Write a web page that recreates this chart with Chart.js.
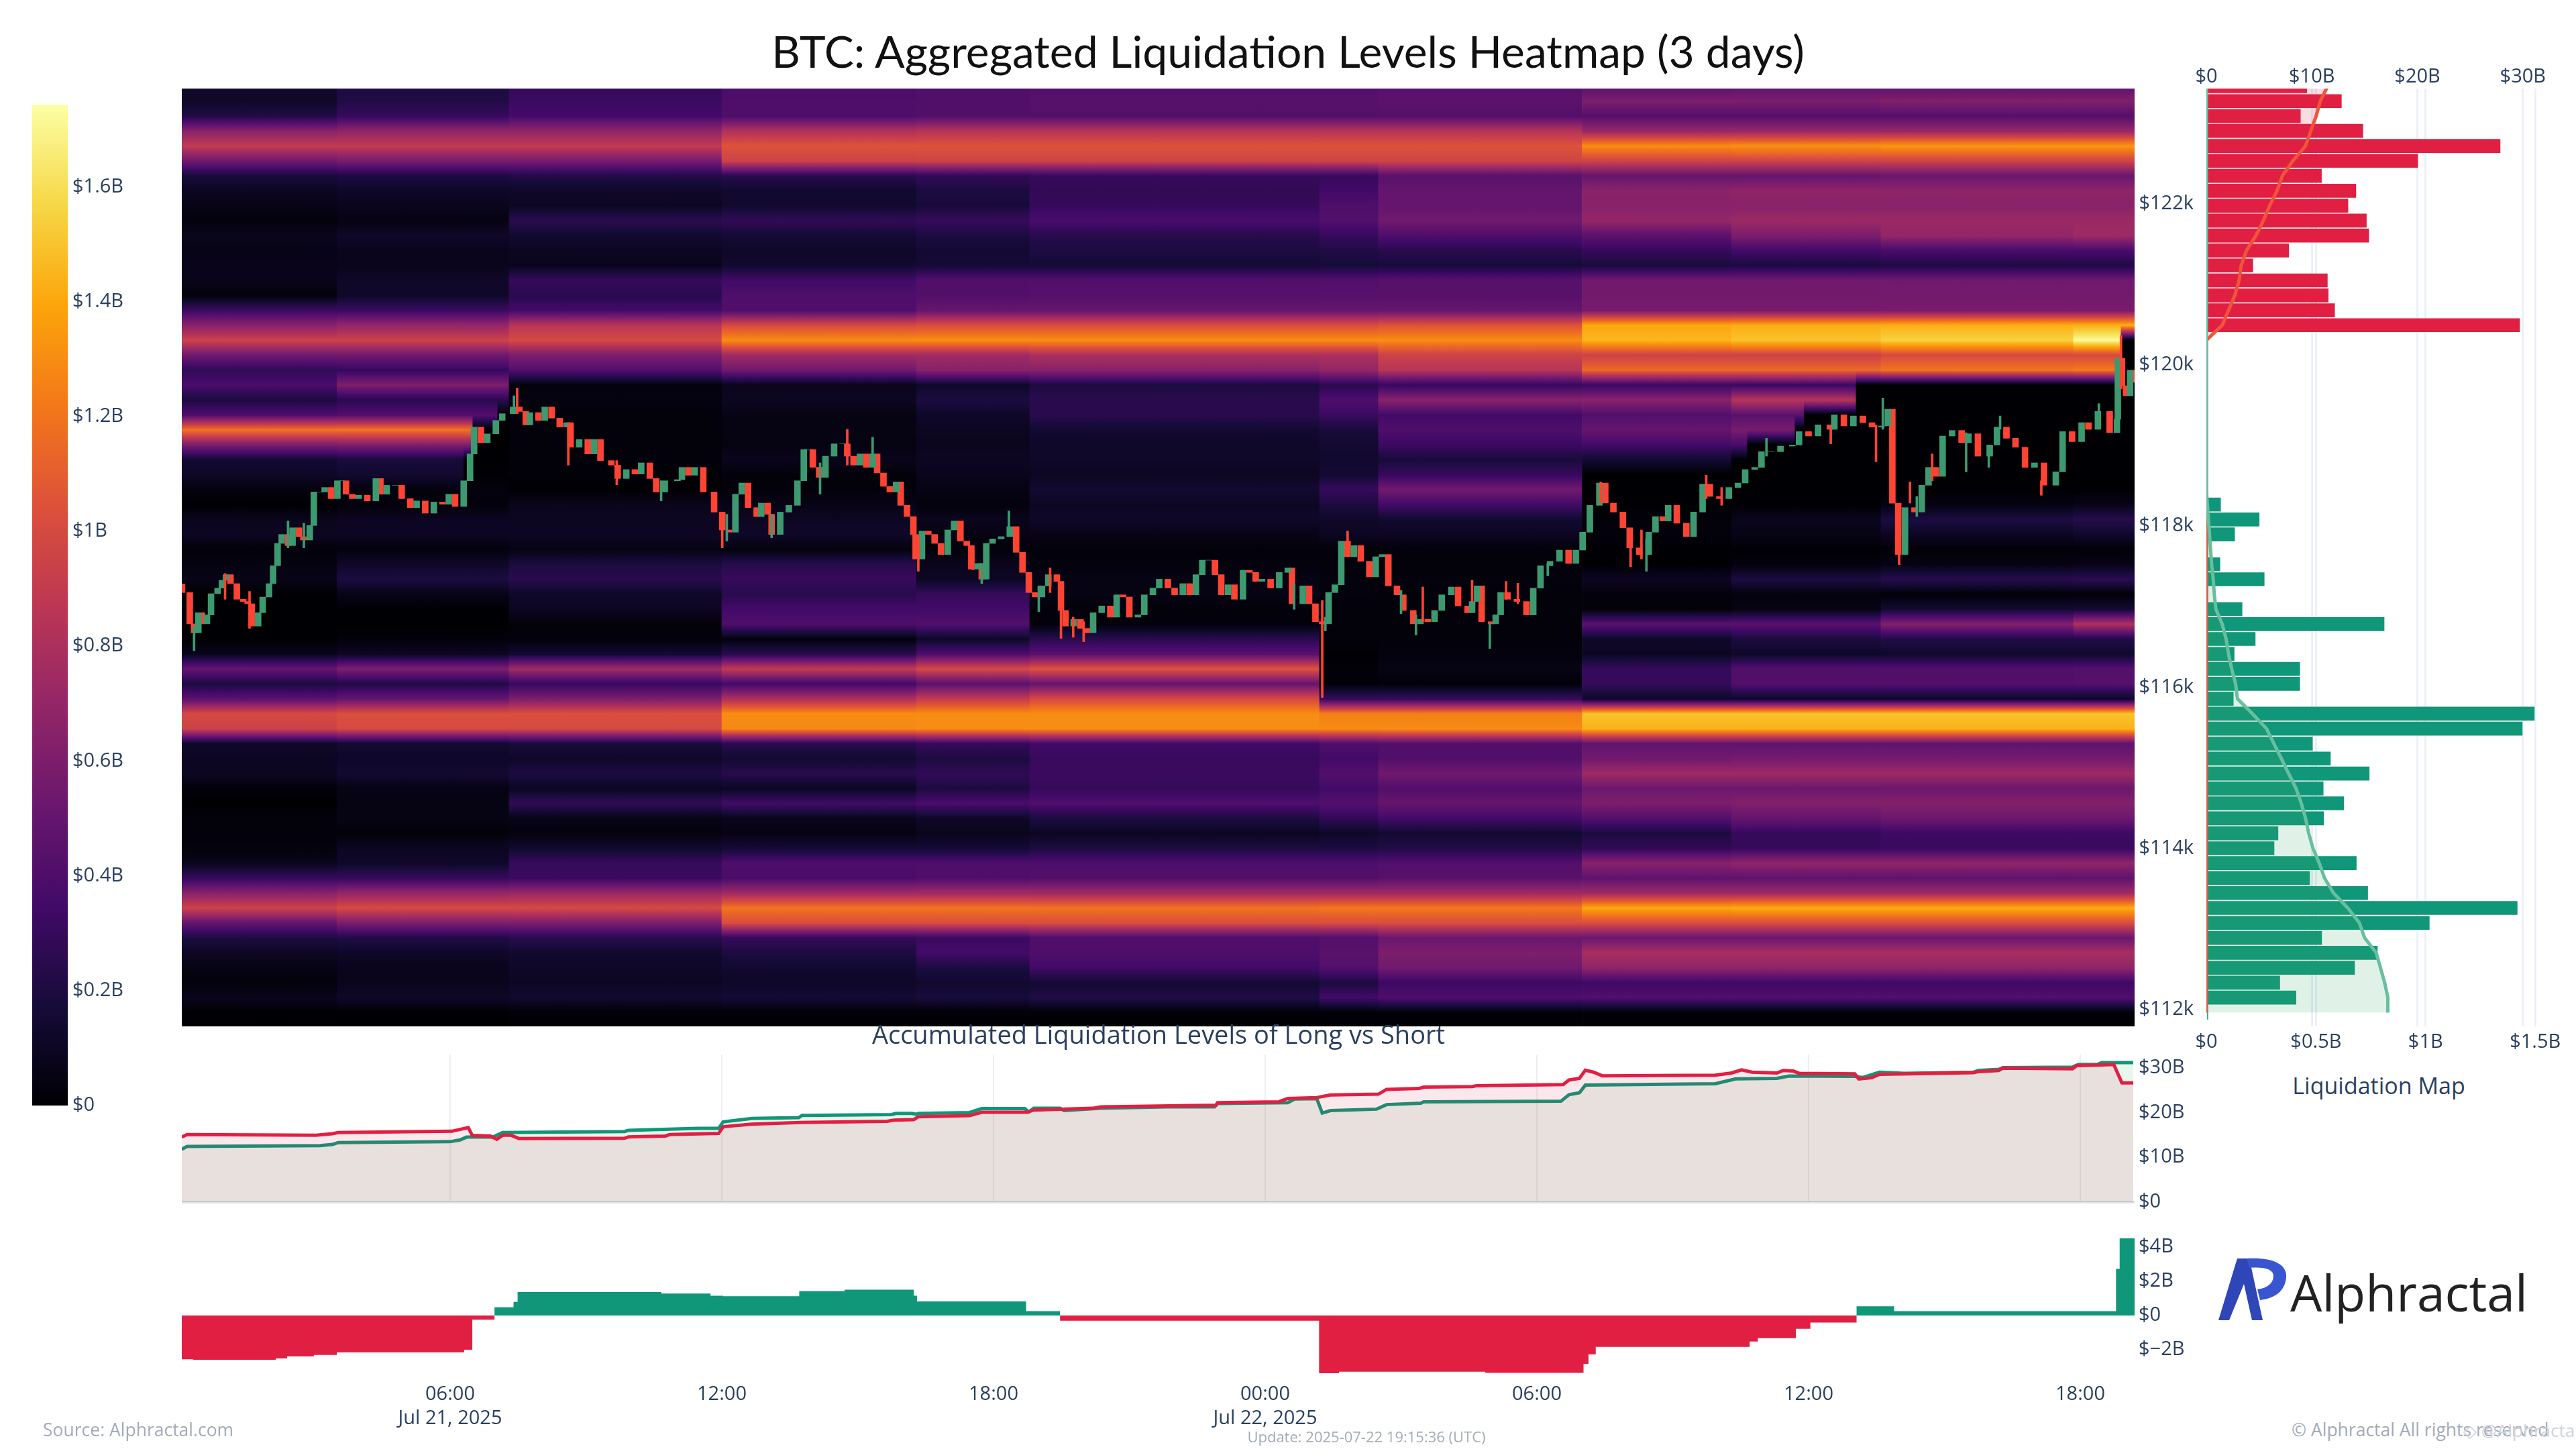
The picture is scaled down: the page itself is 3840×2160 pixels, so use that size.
<!DOCTYPE html>
<html>
<head>
<meta charset="utf-8">
<title>BTC Aggregated Liquidation Levels Heatmap</title>
<script src="https://cdn.jsdelivr.net/npm/chart.js"></script>
<style>
html, body { margin: 0; background: #fff; width: 3840px; height: 2160px; overflow: hidden; }
canvas { position: absolute; }
.txt { position: absolute; white-space: nowrap; font-family: "Open Sans", sans-serif; color: #2a3f5f; line-height: 1; }
</style>
</head>
<body>
<canvas id="heat" style="left:271px;top:132px" width="2911" height="1398"></canvas>
<canvas id="candles" style="left:271px;top:132px" width="2911" height="1398"></canvas>
<canvas id="colorbar" style="left:48px;top:136px" width="180" height="1532"></canvas>
<canvas id="liqmap" style="left:3182px;top:100px" width="658" height="1468"></canvas>
<canvas id="accum" style="left:271px;top:1552px" width="3031" height="264"></canvas>
<canvas id="net" style="left:271px;top:1826px" width="3031" height="314"></canvas>

<div class="txt" style="left:1920px;top:76px;transform:translate(-50%,-50%);font-family:Lato,sans-serif;font-size:66px;color:#111">BTC: Aggregated Liquidation Levels Heatmap (3 days)</div>
<div class="txt" style="left:1727px;top:1541px;transform:translate(-50%,-50%);font-size:38px">Accumulated Liquidation Levels of Long vs Short</div>
<div class="txt" style="left:3546px;top:1618px;transform:translate(-50%,-50%);font-size:34px">Liquidation Map</div>
<div class="txt" style="left:64px;top:2131px;transform:translateY(-50%);font-size:26.5px;color:#a3abb8">Source: Alphractal.com</div>
<div class="txt" style="left:2037px;top:2141px;transform:translate(-50%,-50%);font-size:22px;color:#a3abb8">Update: 2025-07-22 19:15:36 (UTC)</div>
<div class="txt" style="left:3416px;top:2131px;transform:translateY(-50%);font-size:26.5px;color:#a3abb8">© Alphractal All rights reserved</div>
<div class="txt" style="left:3672px;top:2132px;transform:translateY(-50%);font-size:26px;color:#cfd4dc">◇ @Alphractal</div>
<div class="txt" style="left:3414px;top:1926px;transform:translateY(-50%);font-size:75px;color:#222">Alphractal</div>
<svg style="position:absolute;left:3305px;top:1874px" width="106" height="96" viewBox="0 0 106 96">
  <path d="M30 2 L48 2 L68 94 L52 94 L40 40 L18 94 L2 94 Z" fill="#2f46b8"/>
  <path d="M44 2 C90 0 108 14 102 36 C98 54 82 62 64 64 L60 48 C76 46 84 38 84 28 C84 18 70 14 48 16 Z" fill="#3a55d0"/>
</svg>

<script>
// heatmap: price of each row and hour where each time column starts
const priceLevels = [123457,123271,123086,122901,122715,122530,122344,122159,121974,121788,121603,121418,121232,121047,120861,120676,120491,120305,120120,119935,119749,119564,119378,119193,119008,118822,118637,118452,118266,118081,117895,117710,117525,117339,117154,116969,116783,116598,116412,116227,116042,115856,115671,115486,115300,115115,114929,114744,114559,114373,114188,114002,113817,113632,113446,113261,113076,112890,112705,112519,112334,112149,111963,111778];
const columnEdges = [0.07,3.5,7.3,12,16.3,18.8,25.2,26.5,31,34.3,37.6,41.85,42.9,43.2];

// liquidation size in $B, one line per price row, one number per time column
const heatValues = [
[.12,.2,.3,.38,.4,.42,.42,.44,.44,.46,.46,.46,.46],
[.12,.22,.32,.4,.42,.44,.44,.46,.6,.6,.62,.62,.62],
[.22,.3,.36,.4,.42,.42,.42,.42,.43,.43,.43,.43,.43],
[.65,.68,.68,.82,.84,.84,.84,.84,.71,.71,.71,.71,.71],
[.9,.9,.9,1.05,1.05,1.05,1.05,1.05,1.3,1.32,1.34,1.34,1.34],
[.55,.58,.58,.95,.96,.96,.96,.96,.96,.96,.96,.96,.96],
[.18,.2,.22,.25,.28,.3,.3,.45,.5,.5,.52,.52,.52],
[.1,.12,.12,.14,.2,.28,.35,.5,.66,.68,.68,.68,.68],
[.06,.08,.1,.14,.18,.3,.4,.5,.65,.65,.65,.65,.65],
[.03,.05,.25,.28,.3,.38,.42,.55,.7,.73,.73,.73,.73],
[.08,.12,.14,.16,.2,.24,.3,.4,.46,.6,.7,.74,.74],
[.06,.08,.1,.12,.15,.2,.22,.25,.3,.35,.38,.38,.38],
[.07,.08,.08,.14,.16,.16,.17,.18,.19,.2,.21,.21,.21],
[.07,.12,.3,.35,.42,.42,.42,.44,.55,.55,.55,.55,.55],
[.03,.12,.25,.4,.42,.43,.44,.44,.55,.55,.56,.56,.56],
[.32,.32,.35,.4,.5,.5,.5,.5,.58,.58,.58,.58,.58],
[.65,.7,.85,1,1.02,1.02,1.02,1.05,1.4,1.42,1.43,1.43,1.43],
[.95,.95,1,1.3,1.3,1.3,1.3,1.3,1.45,1.5,1.55,1.72,0],
[.55,.55,.6,.75,.75,.8,.8,.95,.95,.95,1,1,0],
[.28,.3,.42,.55,.65,.65,.7,.85,1.15,1.15,1.2,1.22,0],
[.38,.6,.03,.08,.12,.2,.25,.3,.32,.32,0,0,0],
[.2,.25,.04,.1,.2,.25,.4,.65,.65,.85,0,0,0],
[.4,.42,.02,.05,.12,.25,.32,.35,.42,.45,0,0,0],
[1.2,1.2,.02,.05,.1,.15,.18,.4,.5,.58,0,0,0],
[.6,.62,.02,.04,.08,.12,.15,.32,.35,.38,0,0,0],
[.15,.18,.02,.08,.1,.12,.14,.18,.15,0,0,0,0],
[.12,.14,.01,.02,.08,.1,.15,.3,0,0,0,0,0],
[.03,.03,0,.02,.05,.15,.3,.55,0,0,0,0,0],
[0,.02,.08,.06,.03,.1,.2,.35,0,0,.04,.06,.065],
[.08,.1,.1,.1,.08,.12,.12,.14,.02,.08,.2,.24,.24],
[.1,.1,.1,.12,.05,.06,.1,.1,.02,.06,.1,.13,.13],
[.02,.03,.05,.03,.02,.02,.02,.02,0,0,.01,.01,.01],
[.04,.12,.2,.25,.08,.03,.02,.02,0,.03,.05,.06,.06],
[.06,.2,.25,.3,.1,.05,.03,.03,.1,.2,.25,.26,.26],
[0,.06,.12,.25,.3,.05,.03,.02,.02,.03,.01,.01,.01],
[0,0,.1,.35,.35,.02,.02,.02,.02,.05,.15,.16,.16],
[0,0,.02,.4,.42,.02,.02,.02,.45,.45,.62,.81,.81],
[0,.02,.02,.03,.12,.25,.02,.02,.12,.2,.22,.22,.22],
[.08,.1,.15,.25,.4,.45,0,.03,.1,.12,.13,.13,.13],
[.5,.6,.75,.9,1,1.05,.01,.05,.3,.42,.42,.43,.43],
[.2,.22,.3,.35,.45,.5,.01,.02,.3,.42,.42,.43,.43],
[.45,.5,.6,.8,.9,1,.3,.3,.12,.12,.12,.12,.12],
[1,1.03,1.03,1.3,1.3,1.3,1.25,1.25,1.5,1.5,1.5,1.5,1.5],
[.95,1,1,1.28,1.3,1.3,1.3,1.3,1.44,1.44,1.44,1.44,1.44],
[.12,.15,.18,.25,.3,.35,.4,.42,.48,.48,.48,.48,.48],
[.1,.12,.12,.15,.2,.3,.35,.42,.55,.57,.57,.57,.57],
[.1,.15,.2,.25,.28,.32,.42,.55,.74,.74,.74,.74,.74],
[.02,.05,.1,.1,.2,.3,.35,.42,.53,.53,.53,.53,.53],
[0,.05,.28,.35,.38,.4,.42,.5,.6,.62,.63,.63,.63],
[.02,.05,.06,.08,.12,.2,.28,.35,.42,.5,.53,.53,.53],
[.02,.02,.03,.05,.08,.1,.12,.15,.2,.3,.33,.33,.33],
[.03,.1,.14,.16,.16,.2,.2,.22,.28,.3,.31,.31,.31],
[.08,.12,.3,.4,.4,.4,.4,.42,.65,.68,.68,.68,.68],
[.3,.3,.32,.38,.4,.42,.42,.45,.47,.47,.47,.47,.47],
[.65,.7,.72,.75,.75,.74,.74,.74,.74,.74,.74,.74,.74],
[.95,1,1,1.2,1.2,1.2,1.22,1.22,1.4,1.42,1.42,1.42,1.42],
[.5,.6,.6,1.02,1.02,1.02,1.02,1.02,1.02,1.02,1.02,1.02,1.02],
[.2,.22,.25,.3,.32,.4,.42,.52,.52,.52,.52,.52,.52],
[.1,.12,.14,.2,.35,.4,.45,.6,.78,.78,.78,.78,.78],
[.05,.08,.12,.14,.2,.35,.42,.55,.68,.68,.68,.68,.68],
[.02,.08,.1,.12,.14,.15,.2,.32,.33,.33,.33,.33,.33],
[.08,.12,.14,.16,.18,.22,.35,.4,.41,.41,.41,.41,.41],
[0,0,.01,.01,.01,.01,.01,.01,.01,.01,.01,.01,.01],
[0,0,0,0,0,0,0,0,0,0,0,0,0]
];

// stretches of a row wiped out when price went through it
const clearRows = [22,23,24,25,26,20,21,22,23,24,25];
const clearFrom = [7.05,6.5,6.5,6.3,6.3,37.05,37.05,35.9,35.7,34.65,34.65];
const clearTo = [7.3,7.3,7.3,7.3,7.3,37.6,37.6,37.6,37.6,37.6,37.6];

// candles, hour since Jul 21 00:00 and close price
const candleHours = [.08,.25,.345,.44,.515,.63,.72,.865,.96,1.05,1.15,1.29,1.43,1.53,1.62,1.76,1.86,2,2.09,2.19,2.28,2.42,2.52,2.66,2.76,2.9,2.99,3.13,3.23,3.37,3.51,3.61,3.7,3.84,3.98,4.17,4.36,4.46,4.6,4.79,4.93,5.12,5.26,5.45,5.64,5.83,5.97,6.11,6.3,6.44,6.53,6.68,6.82,7.01,7.15,7.39,7.53,7.67,7.76,7.95,8.09,8.24,8.42,8.57,8.66,8.85,9.04,9.18,9.32,9.56,9.7,9.89,10.08,10.22,10.41,10.55,10.74,11.02,11.12,11.26,11.4,11.59,11.83,12.01,12.16,12.3,12.44,12.58,12.77,12.87,13.01,13.1,13.29,13.48,13.67,13.81,13.87,14.01,14.15,14.29,14.48,14.67,14.77,14.91,15.05,15.19,15.33,15.43,15.57,15.71,15.85,15.95,16.09,16.23,16.28,16.42,16.56,16.7,16.84,16.99,17.13,17.27,17.41,17.51,17.65,17.74,17.84,17.98,18.17,18.36,18.5,18.64,18.78,18.92,19.07,19.21,19.4,19.49,19.59,19.77,19.92,20.06,20.2,20.39,20.58,20.72,20.86,21,21.19,21.33,21.52,21.66,21.85,22,22.18,22.33,22.47,22.61,22.75,22.89,23.03,23.18,23.32,23.51,23.65,23.79,23.93,24.12,24.31,24.5,24.59,24.83,24.97,25.11,25.26,25.4,25.54,25.68,25.82,25.96,26.11,26.3,26.44,26.58,26.72,26.91,27.05,27.27,27.43,27.59,27.74,27.9,28.11,28.26,28.47,28.57,28.68,28.78,28.99,29.09,29.2,29.35,29.56,29.77,29.92,30.08,30.29,30.5,30.7,30.86,31.01,31.17,31.38,31.51,31.69,31.9,32.05,32.26,32.47,32.62,32.78,32.9,33.09,33.3,33.46,33.66,33.82,34.03,34.24,34.44,34.6,34.81,34.96,35.17,35.38,35.64,35.79,36,36.21,36.47,36.57,36.78,36.99,37.2,37.4,37.61,37.75,37.85,37.98,38.13,38.34,38.5,38.65,38.81,38.96,39.17,39.38,39.53,39.74,40,40.16,40.37,40.57,40.78,40.99,41.2,41.46,41.61,41.82,42.03,42.18,42.39,42.65,42.81,42.83,42.92,43.01,43.1,43.17];
const candleCloses = [117174,116786,116675,116924,116786,116897,117160,117229,117326,117396,117285,117091,117063,117035,116758,116924,117118,117285,117507,117784,117895,117757,117978,117867,117826,118006,118422,118422,118478,118339,118561,118561,118394,118339,118381,118311,118589,118394,118505,118505,118339,118228,118311,118159,118297,118270,118394,118242,118561,118894,119227,119032,119143,119310,119393,119476,119421,119254,119407,119310,119476,119338,119227,119282,118977,119074,118894,119074,118811,118755,118589,118700,118644,118783,118589,118422,118561,118575,118727,118630,118727,118422,118172,117951,117923,118394,118533,118228,118117,118284,118145,117895,118172,118256,118561,118949,118949,118728,118603,118866,119019,119019,118866,118755,118894,118728,118894,118658,118492,118422,118547,118256,118117,117895,117590,117937,117895,117784,117646,117951,118062,117812,117757,117465,117535,117340,117784,117840,117868,117992,117673,117424,117174,117119,117257,117396,117313,116952,116758,116841,116730,116675,116924,117008,116869,117146,117119,116869,116897,117146,117230,117340,117230,117146,117285,117146,117396,117576,117576,117396,117146,117271,117091,117451,117424,117313,117340,117230,117424,117479,117035,117257,117035,116813,116786,117174,117271,117812,117618,117757,117562,117368,117618,117646,117257,117146,116952,116786,116841,116813,116952,117146,117243,117008,116924,117063,117257,116813,116786,116897,117174,117091,117063,116897,117229,117507,117562,117701,117535,117701,117923,118256,118533,118284,118173,117978,117729,117646,117923,118117,118062,118256,118034,117868,118173,118519,118367,118339,118478,118533,118700,118727,118922,118922,118991,119005,119171,119116,119255,119199,119379,119241,119365,119282,119227,119241,119449,118283,117646,118228,118173,118506,118727,118616,119116,119185,119033,119144,118866,119005,119227,119088,118977,118727,118783,118506,118672,119171,119046,119282,119199,119421,119157,119324,120082,119740,119615,119932,119782];

// wicks that stick out of the candle bodies, wickUp 1 = green
const wickHours = [.345,1.03,1.57,2.42,2.77,7.48,7.41,8.61,9.68,10.66,12.01,12.11,13.1,14.77,15.33,14.17,16.34,17.55,17.74,18.34,19.25,19,19.49,19.76,19.99,24.64,25.26,25.33,25.82,27,27.33,27.48,28.57,28.96,29.32,29.58,30.24,31.41,32.07,32.42,32.31,33.74,34.08,35.07,36.49,37.64,37.49,38,38.24,38.39,38.73,39.48,39.98,40.23,41.14,42.41,42.9];
const wickLows = [116453,117091,116730,117729,117729,119393,119421,118755,118511,118311,117729,117812,117854,118755,118728,118395,117438,117457,117285,117868,117174,116938,116605,116619,116564,116966,115870,116697,117646,116911,116647,116813,117063,116480,117091,117035,117382,118284,117493,117438,117590,118339,118256,118866,119019,119199,118797,117521,118284,118117,118561,118672,118727,119199,118381,119310,119700];
const wickHighs = [116758,117410,117188,118062,118034,119712,119615,119282,118811,118561,118089,118145,118145,119199,119102,118783,117868,117701,117535,118187,117479,117257,117035,116869,116813,117285,117077,116869,117937,117202,116896,117243,117327,116786,117313,117290,117535,118547,117867,117840,117951,118630,118478,119088,119199,119587,119254,118145,118547,118367,118894,119157,118977,119365,118561,119518,120365];
const wickUp = [1,0,0,1,1,0,1,0,0,1,0,1,1,0,1,1,0,0,1,1,0,1,0,0,0,1,0,1,0,1,1,0,0,1,0,0,1,0,0,1,0,0,0,1,0,1,0,0,0,1,0,1,1,1,0,1,0];

// liquidation map, $B per price row
const shortBars = [.458,.616,.429,.714,1.34,.964,.525,.682,.646,.73,.741,.376,.212,.552,.556,.585,1.429];
const longBars = [.065,.241,.129,.007,.062,.264,.007,.163,.811,.223,.127,.426,.426,.123,1.496,1.441,.484,.566,.743,.533,.627,.535,.327,.309,.684,.471,.736,1.418,1.017,.526,.78,.676,.335,.409,.007];
const longStartRow = 28;
const shortCum = [11.5,10.8,10.4,9.9,9.4,8.2,7.2,6.7,6,5.4,4.7,3.8,3.3,3.1,2.7,2.1,1.5,0];
const longCum = [.1,.2,.3,.4,.5,.65,.75,.9,1.5,1.87,2.1,2.4,2.77,2.95,4.37,5.7,6.4,7.1,7.8,8.5,9,9.4,9.7,10.1,10.7,11.2,12.05,13.4,14.5,15,16.1,16.5,16.9,17.2,17.2];

// accumulated liquidation levels, $B
const shortHours = [.07,.19,3.04,3.4,3.53,6.04,6.4,6.49,6.89,7.03,7.16,7.34,7.52,9.85,9.94,10.75,10.85,11.93,12.03,12.66,13.75,15.65,15.8,16.24,16.34,17.47,17.74,18.74,18.89,20.19,20.37,22.91,22.95,24.3,24.5,25.14,25.44,26.5,26.68,27.4,27.5,28.58,28.67,30.58,30.71,30.94,31.07,31.25,31.45,33.94,34.3,34.52,34.75,35.3,35.44,35.66,35.79,37.02,37.11,37.39,37.57,39.65,39.75,40.2,40.29,41.83,41.92,42.38,42.74,42.92,43.17];
const shortTotal = [14.5,15.06,14.93,15.25,15.5,15.8,16.63,14.87,14.74,14,14.93,14.93,14.18,14.24,14.55,14.74,15.06,15.31,16.82,17.39,17.77,18.02,18.27,18.4,19.03,19.28,20.03,20.03,20.54,20.92,21.23,21.61,22.18,22.37,23.12,23.31,23.88,24.07,25.14,25.33,25.64,25.77,25.96,26.21,27.22,27.59,29.42,28.98,28.16,28.29,28.79,29.48,28.98,28.79,29.36,29.23,28.73,28.6,27.47,27.72,28.48,28.85,29.1,29.36,29.86,29.74,30.43,30.56,30.68,26.59,26.59];
const longHours = [.07,.19,3.13,3.4,3.53,6,6.22,6.36,6.94,7.16,9.85,9.94,11.48,11.93,12.03,12.66,13.7,13.77,15.75,15.84,16.2,16.29,16.34,17.47,17.74,18.69,18.78,18.89,19.47,19.56,20.37,21.83,22.88,22.95,24.5,24.65,25.14,25.26,25.44,26.46,26.68,27.44,27.5,30.53,30.71,30.94,31.07,33.94,34.39,35.3,35.57,37.02,37.2,37.57,38.11,39.65,39.75,40.2,40.29,41.83,41.96,42.38,42.47,43.17];
const longTotal = [11.78,12.41,12.6,12.85,13.29,13.48,13.86,14.49,14.49,15.5,15.75,16,16.44,16.44,17.89,18.65,18.84,19.34,19.53,19.78,19.78,19.59,19.78,19.97,20.85,20.85,20.1,20.92,20.92,20.41,20.92,21.23,21.23,21.99,22.18,23,23.06,19.85,20.41,20.73,21.74,22.05,22.37,22.49,23.94,24.38,26.08,26.4,27.47,27.59,28.1,28.04,27.78,28.98,28.73,28.98,29.36,29.61,29.99,30.11,30.68,30.68,31.12,31.12];

// long minus short step bars, value holds from its hour to the next one
const deltaHours = [.07,.32,2.15,2.4,2.99,3.5,6.31,6.49,6.98,7.4,7.49,10.66,11.75,12.03,13.71,14.71,16.24,16.31,18.72,19.47,25.19,25.63,28.86,31.03,31.14,31.3,34.7,34.88,35.72,36.04,37.06,37.89,42.79,42.87,43.2];
const deltaValues = [-2.55,-2.58,-2.5,-2.38,-2.3,-2.15,-1.99,-.25,.48,.79,1.37,1.28,1.15,1.12,1.41,1.5,1.15,.82,.25,-.3,-3.37,-3.27,-3.34,-2.81,-2.27,-1.83,-1.51,-1.32,-.77,-.41,.54,.25,2.71,4.49,4.49];

// tick labels
const priceTicks = [112000,114000,116000,118000,120000,122000];
const colorTicks = [0,.2,.4,.6,.8,1,1.2,1.4,1.6];
const mapTicks = [0,.5,1,1.5];
const cumTicks = [0,10,20,30];
const accumTicks = [0,10,20,30];
const deltaTicks = [-2,0,2,4];
const timeTicks = [6,12,18,24,30,36,42];
const timeLabels = [['06:00','Jul 21, 2025'],['12:00'],['18:00'],['00:00','Jul 22, 2025'],['06:00'],['12:00'],['18:00']];

const inferno = ['#000004','#160b39','#420a68','#6a176e','#932667','#bc3754','#dd513a','#f37819','#fca50a','#f6d746','#fcffa4'];
const colorMax = 1.743;
const greenBar = '#109678', redBar = '#e11f43', greenCandle = '#3d9a70', redCandle = '#ff4433';
const tickColor = '#2a3f5f';
const tickFont = { family: '"Open Sans", sans-serif', size: 29 };
const hourMin = 0.074, hourMax = 43.2;
const priceMin = 111792, priceMax = 123427;

Chart.defaults.animation = false;
Chart.defaults.responsive = false;
Chart.defaults.devicePixelRatio = 1;
Chart.defaults.events = [];
Chart.defaults.plugins.legend.display = false;
Chart.defaults.plugins.tooltip.enabled = false;

function hexToRgb(h) {
	return [parseInt(h.substr(1,2),16), parseInt(h.substr(3,2),16), parseInt(h.substr(5,2),16)];
}

function heatColor(v) {
	var t = Math.min(Math.max(v / colorMax, 0), 1) * 10;
	var i = Math.min(Math.floor(t), 9);
	var a = hexToRgb(inferno[i]), b = hexToRgb(inferno[i+1]), f = t - i;
	return 'rgb(' + Math.round(a[0]+(b[0]-a[0])*f) + ',' + Math.round(a[1]+(b[1]-a[1])*f) + ',' + Math.round(a[2]+(b[2]-a[2])*f) + ')';
}

function heatAt(row, hour) {
	for (var k = 0; k < clearRows.length; k++) {
		if (clearRows[k] == row && hour >= clearFrom[k] && hour < clearTo[k]) return 0;
	}
	var c = 0;
	while (c < columnEdges.length - 2 && hour >= columnEdges[c+1]) c++;
	return heatValues[row][c];
}

// fixed axis box, no extra room for the labels at the ends
function fixHeight(h) {
	return function(s) { s.height = h; s.paddingLeft = 0; s.paddingRight = 0; };
}
function fixWidth(w) {
	return function(s) { s.width = w; s.paddingTop = 0; s.paddingBottom = 0; };
}

//each dataset is the strip between two price rows, shaded from one row to the next
function buildHeatDatasets() {
	var sets = [];
	for (let r = 0; r < priceLevels.length - 1; r++) {
		var edges = columnEdges.slice();
		clearRows.forEach(function(row, k){
			if (row == r || row == r + 1) { edges.push(clearFrom[k]); edges.push(clearTo[k]); }
		});
		edges = edges.filter((e, i) => edges.indexOf(e) == i).sort((a, b) => a - b);
		var cells = [];
		for (var e = 0; e < edges.length - 1; e++) {
			var mid = (edges[e] + edges[e+1]) / 2;
			cells.push({ x: [edges[e], edges[e+1]], y: (priceLevels[r] + priceLevels[r+1]) / 2, top: heatAt(r, mid), bottom: heatAt(r+1, mid) });
		}
		sets.push({
			data: cells,
			stack: 'heat',
			barThickness: 24,
			backgroundColor: function(ctx) {
				if (!ctx.raw) return 'transparent';
				var sc = ctx.chart.scales.y;
				var y0 = sc.getPixelForValue(priceLevels[r]), y1 = sc.getPixelForValue(priceLevels[r+1]);
				if (!isFinite(y0) || !isFinite(y1)) return 'transparent';
				var g = ctx.chart.ctx.createLinearGradient(0, y0, 0, y1);
				for (var k = 0; k <= 6; k++) g.addColorStop(k / 6, heatColor(ctx.raw.top + (ctx.raw.bottom - ctx.raw.top) * k / 6));
				return g;
			}
		});
	}
	return sets;
}

new Chart(document.getElementById('heat'), {
	type: 'bar',
	data: { datasets: buildHeatDatasets() },
	options: {
		indexAxis: 'y',
		scales: {
			x: { type: 'linear', display: false, min: hourMin, max: hourMax, stacked: false, offset: false },
			y: { type: 'linear', display: false, min: priceMin, max: priceMax, offset: false }
		}
	}
});

// candles
var upBodies = [], downBodies = [], upWicks = [], downWicks = [];
candleHours.forEach(function(h, i){
	var open = i ? candleCloses[i-1] : 117280;
	(candleCloses[i] >= open ? upBodies : downBodies).push({ x: h, y: [open, candleCloses[i]] });
});
wickHours.forEach(function(h, i){
	(wickUp[i] ? upWicks : downWicks).push({ x: h, y: [wickLows[i], wickHighs[i]] });
});

new Chart(document.getElementById('candles'), {
	type: 'bar',
	data: { datasets: [
		{ data: upWicks, stack: 'c', barThickness: 3, backgroundColor: greenCandle },
		{ data: downWicks, stack: 'c', barThickness: 3, backgroundColor: redCandle },
		{ data: upBodies, stack: 'c', barThickness: 9, backgroundColor: greenCandle },
		{ data: downBodies, stack: 'c', barThickness: 9, backgroundColor: redCandle }
	] },
	options: {
		scales: {
			x: { type: 'linear', display: false, min: hourMin, max: hourMax, offset: false },
			y: { type: 'linear', display: false, min: priceMin, max: priceMax, stacked: false }
		}
	}
});

// colour bar
new Chart(document.getElementById('colorbar'), {
	type: 'bar',
	data: { labels: [''], datasets: [{
		data: [[0, colorMax]],
		barPercentage: 1,
		categoryPercentage: 1,
		backgroundColor: function(ctx) {
			var area = ctx.chart.chartArea;
			if (!area) return inferno[5];
			var g = ctx.chart.ctx.createLinearGradient(0, area.bottom, 0, area.top);
			inferno.forEach((c, i) => g.addColorStop(i / 10, c));
			return g;
		}
	}] },
	options: {
		layout: { padding: { top: 20, bottom: 20 } },
		scales: {
			x: { display: false },
			y: {
				position: 'right', min: 0, max: colorMax,
				grid: { display: false, drawTicks: false }, border: { display: false },
				afterFit: fixWidth(127),
				afterBuildTicks: function(s) { s.ticks = colorTicks.map(v => ({ value: v })); },
				ticks: { color: tickColor, font: tickFont, padding: 7, autoSkip: false,
					callback: v => v == 0 ? '$0' : '$' + v + 'B' }
			}
		}
	}
});

// liquidation map on the right
var shortData = shortBars.map((v, i) => ({ x: v, y: priceLevels[i] }));
var longData = longBars.map((v, i) => ({ x: v, y: priceLevels[longStartRow + i] }));
var shortLine = priceLevels.slice(0, 63).map((p, i) => ({ x: i < shortCum.length ? shortCum[i] : 0, y: p }));
var longLine = priceLevels.slice(0, 63).map((p, i) => ({ x: i < longStartRow ? 0 : longCum[i - longStartRow], y: p }));

new Chart(document.getElementById('liqmap'), {
	type: 'bar',
	data: { datasets: [
		{ type: 'line', data: longLine, xAxisID: 'x2', order: 0, indexAxis: 'y', borderColor: '#67bfa0', borderWidth: 5, pointRadius: 0, fill: 'origin', backgroundColor: 'rgba(60,175,110,0.16)' },
		{ type: 'line', data: shortLine, xAxisID: 'x2', order: 0, indexAxis: 'y', borderColor: '#ef553b', borderWidth: 5, pointRadius: 0, fill: 'origin', backgroundColor: 'rgba(226,31,69,0.16)' },
		{ data: shortData, stack: 'm', barThickness: 20, order: 1, backgroundColor: redBar },
		{ data: longData, stack: 'm', barThickness: 20, order: 1, backgroundColor: greenBar }
	] },
	options: {
		indexAxis: 'y',
		layout: { padding: { right: 40 } },
		scales: {
			x: {
				type: 'linear', position: 'bottom', min: 0, max: 1.5636, stacked: false, offset: false,
				grid: { color: c => c.tick.value ? '#ebf0f8' : 'transparent', lineWidth: 3, drawTicks: false }, border: { display: false },
				afterFit: fixHeight(38),
				afterBuildTicks: function(s) { s.ticks = mapTicks.map(v => ({ value: v })); },
				ticks: { color: tickColor, font: tickFont, padding: 6, maxRotation: 0, callback: v => v == 0 ? '$0' : '$' + v + 'B' }
			},
			x2: {
				type: 'linear', position: 'top', min: 0, max: 32.49, offset: false,
				grid: { color: c => c.tick.value ? '#ebf0f8' : 'transparent', lineWidth: 3, drawTicks: false }, border: { display: false },
				afterFit: fixHeight(32),
				afterBuildTicks: function(s) { s.ticks = cumTicks.map(v => ({ value: v })); },
				ticks: { color: tickColor, font: tickFont, padding: 0, maxRotation: 0, callback: v => v == 0 ? '$0' : '$' + v + 'B' }
			},
			y: {
				type: 'linear', position: 'left', min: priceMin, max: priceMax, offset: false,
				grid: { display: false, drawTicks: false }, border: { display: false },
				afterFit: fixWidth(107),
				afterBuildTicks: function(s) { s.ticks = priceTicks.map(v => ({ value: v })); },
				ticks: { color: tickColor, font: tickFont, padding: 19, callback: v => '$' + (v / 1000) + 'k' }
			}
		}
	}
});

// accumulated lines
new Chart(document.getElementById('accum'), {
	type: 'line',
	data: { datasets: [
		{ data: shortHours.map((h, i) => ({ x: h, y: shortTotal[i] })), borderColor: redBar, borderWidth: 5, pointRadius: 0, fill: 'origin', backgroundColor: 'rgba(226,31,69,0.1)' },
		{ data: longHours.map((h, i) => ({ x: h, y: longTotal[i] })), borderColor: greenBar, borderWidth: 5, pointRadius: 0, fill: 'origin', backgroundColor: 'rgba(40,170,90,0.1)' }
	] },
	options: {
		layout: { padding: { top: 20, bottom: 24 } },
		scales: {
			x: {
				type: 'linear', min: hourMin, max: hourMax,
				grid: { color: '#ebeff3', lineWidth: 2, drawTicks: false }, border: { display: false },
				afterFit: fixHeight(0),
				afterBuildTicks: function(s) { s.ticks = timeTicks.map(v => ({ value: v })); },
				ticks: { display: false }
			},
			y: {
				position: 'right', min: 0, max: 32.9,
				grid: { color: c => c.tick.value == 0 ? '#dde2ea' : 'transparent', lineWidth: 4, drawTicks: false }, border: { display: false },
				afterFit: fixWidth(120),
				afterBuildTicks: function(s) { s.ticks = accumTicks.map(v => ({ value: v })); },
				ticks: { color: tickColor, font: tickFont, padding: 6, callback: v => v == 0 ? '$0' : '$' + v + 'B' }
			}
		}
	}
});

// long minus short
new Chart(document.getElementById('net'), {
	type: 'line',
	data: { datasets: [{
		data: deltaHours.map((h, i) => ({ x: h, y: deltaValues[i] })),
		stepped: 'before', borderWidth: 0, pointRadius: 0,
		fill: { target: 'origin', above: greenBar, below: redBar }
	}] },
	options: {
		layout: { padding: { top: 20 } },
		scales: {
			x: {
				type: 'linear', min: hourMin, max: hourMax,
				grid: { display: false, drawTicks: false }, border: { display: false },
				afterFit: fixHeight(93),
				afterBuildTicks: function(s) { s.ticks = timeTicks.map(v => ({ value: v })); },
				ticks: { color: tickColor, font: Object.assign({ lineHeight: 1.24 }, tickFont), padding: 14, maxRotation: 0, autoSkip: false,
					callback: function(v) { return timeLabels[timeTicks.indexOf(v)]; } }
			},
			y: {
				position: 'right', min: -3.36, max: 4.49,
				grid: { display: false, drawTicks: false }, border: { display: false },
				afterFit: fixWidth(120),
				afterBuildTicks: function(s) { s.ticks = deltaTicks.map(v => ({ value: v })); },
				ticks: { color: tickColor, font: tickFont, padding: 6,
					callback: v => v == 0 ? '$0' : (v < 0 ? '$\u2212' + (-v) + 'B' : '$' + v + 'B') }
			}
		}
	}
});
</script>
</body>
</html>
